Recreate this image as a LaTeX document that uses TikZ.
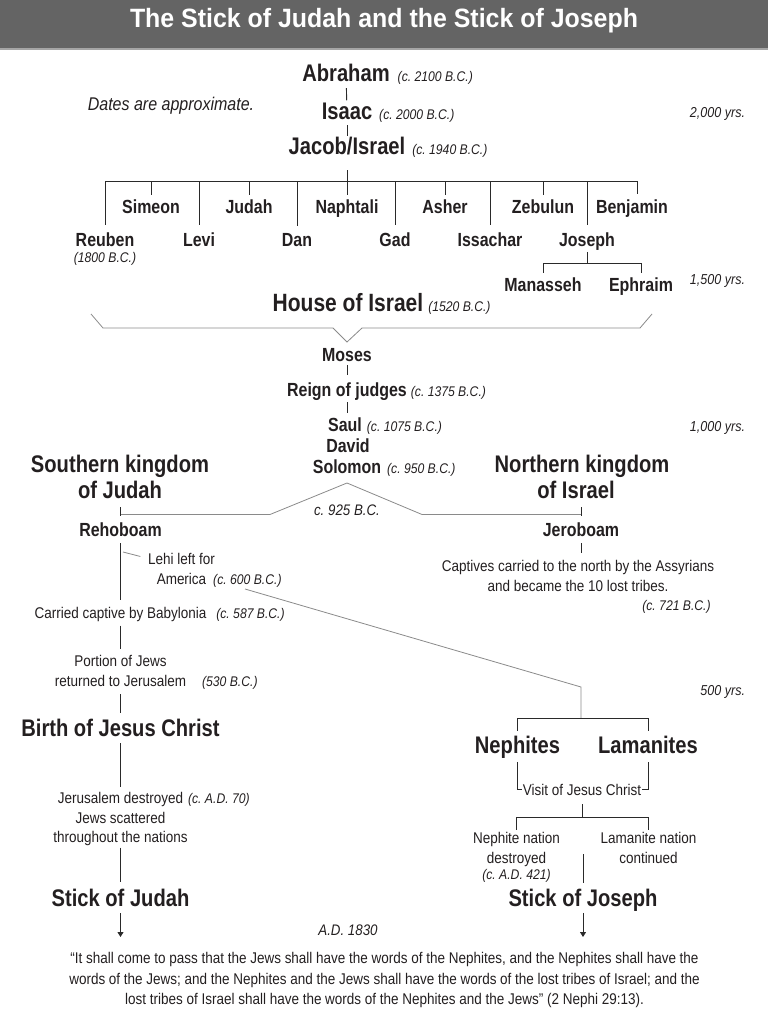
\documentclass[tikz,border=0pt]{standalone}
\usepackage{fontspec}
\setmainfont{Liberation Sans}
\newfontfamily\rgf{Liberation Sans}[FakeStretch=0.87]
\newfontfamily\bdf{Liberation Sans}[FakeStretch=0.84]
\newfontfamily\ttlf{Liberation Sans}[FakeStretch=0.94]
\usetikzlibrary{arrows.meta}
\definecolor{txt}{HTML}{231F20}
\definecolor{hbar}{HTML}{646464}
\definecolor{hbarl}{HTML}{A5A5A5}
\definecolor{gln}{HTML}{8A8A8A}
\definecolor{dln}{HTML}{2A2A2A}
\frenchspacing
\begin{document}
\begin{tikzpicture}[x=1pt,y=-1pt,
 every node/.style={inner sep=0pt, outer sep=0pt, text=txt},
 big/.style={font=\bdf\bfseries\fontsize{24}{27}\selectfont, anchor=base},
 hs/.style={font=\bdf\bfseries\fontsize{25}{27}\selectfont, anchor=base},
 nm/.style={font=\bdf\bfseries\fontsize{19}{21}\selectfont, anchor=base},
 rg/.style={font=\rgf\fontsize{15.5}{20}\selectfont, anchor=base},
 dt/.style={font=\rgf\itshape\fontsize{14}{16}\selectfont, anchor=base west},
 yr/.style={font=\rgf\itshape\fontsize{14.4}{16}\selectfont, anchor=base east},
 ct/.style={font=\rgf\itshape\fontsize{15.3}{17}\selectfont, anchor=base},
 ln/.style={draw=dln, line width=0.9pt},
 gl/.style={draw=gln, line width=0.8pt},
 arr/.style={ln, -{Triangle[length=5pt,width=6pt]}},
]
\useasboundingbox (0,0) rectangle (768,1024);
% header
\fill[hbar] (0,0) rectangle (768,48);
\fill[hbarl] (0,48) rectangle (768,50);
\node[font=\ttlf\bfseries\fontsize{26.5}{28}\selectfont, text=white, anchor=base] (title) at (384,27.5) {The Stick of Judah and the Stick of Joseph};

\node[font=\rgf\itshape\fontsize{18.4}{20}\selectfont, anchor=base] (dates) at (171,111) {Dates are approximate.};

% patriarchs
\node[big] (abraham) at (346,82) {Abraham};
\node[dt] (dabr) at ([xshift=8pt]abraham.base east) {(c. 2100 B.C.)};
\node[big] (isaac) at (347,120) {Isaac};
\node[dt] (disa) at ([xshift=7pt]isaac.base east) {(c. 2000 B.C.)};
\node[big] (jacob) at (347,155) {Jacob/Israel};
\node[dt] (djac) at ([xshift=7pt]jacob.base east) {(c. 1940 B.C.)};
\node[yr] (y2000) at (745,118) {2,000 yrs.};

% tribes
\node[nm] (simeon) at (151,214) {Simeon};
\node[nm] (judah) at (249,214) {Judah};
\node[nm] (naphtali) at (347,214) {Naphtali};
\node[nm] (asher) at (445,214) {Asher};
\node[nm] (zebulun) at (543,214) {Zebulun};
\node[nm] (benjamin) at (632,214) {Benjamin};
\node[nm] (reuben) at (105,247) {Reuben};
\node[nm] (levi) at (199,247) {Levi};
\node[nm] (dan) at (297,247) {Dan};
\node[nm] (gad) at (395,247) {Gad};
\node[nm] (issachar) at (490,247) {Issachar};
\node[nm] (joseph) at (587,247) {Joseph};
\node[dt, anchor=base] (dreu) at (105,262) {(1800 B.C.)};
\node[nm] (manasseh) at (543,291.5) {Manasseh};
\node[nm] (ephraim) at (641,291.5) {Ephraim};
\node[yr] (y1500) at (745,284) {1,500 yrs.};
\node[hs] (house) at (348,311.5) {House of Israel};
\node[dt] (dhouse) at ([xshift=5pt]house.base east) {(1520 B.C.)};

% judges and kings
\node[nm] (moses) at (347,361) {Moses};
\node[nm] (reign) at (347,396) {Reign of judges};
\node[dt] (dreign) at ([xshift=4pt]reign.base east) {(c. 1375 B.C.)};
\node[nm] (saul) at (345,431) {Saul};
\node[dt] (dsaul) at ([xshift=5pt]saul.base east) {(c. 1075 B.C.)};
\node[nm] (david) at (348,452) {David};
\node[nm] (solomon) at (347,473) {Solomon};
\node[dt] (dsol) at ([xshift=6pt]solomon.base east) {(c. 950 B.C.)};
\node[yr] (y1000) at (745,431) {1,000 yrs.};
\node[big] (south1) at (120,472) {Southern kingdom};
\node[big] (south2) at (120,498) {of Judah};
\node[big] (north1) at (582,472) {Northern kingdom};
\node[big] (north2) at (576,498) {of Israel};
\node[ct] (c925) at (347,515) {c. 925 B.C.};
\node[nm] (rehoboam) at (120.5,536) {Rehoboam};
\node[nm] (jeroboam) at (581,536) {Jeroboam};

% left column
\node[rg] (lehi1) at (181.5,564) {Lehi left for};
\node[rg] (lehi2) at (181.5,584) {America};
\node[dt] (dlehi) at ([xshift=7pt]lehi2.base east) {(c. 600 B.C.)};
\node[rg] (carried) at (120.5,618.5) {Carried captive by Babylonia};
\node[dt] (dcar) at ([xshift=10pt]carried.base east) {(c. 587 B.C.)};
\node[rg] (port1) at (120.5,666) {Portion of Jews};
\node[rg] (port2) at (120.5,686) {returned to Jerusalem};
\node[dt] (dport) at ([xshift=16pt]port2.base east) {(530 B.C.)};
\node[yr] (y500) at (745,695) {500 yrs.};
\node[big] (birth) at (120.5,736.5) {Birth of Jesus Christ};
\node[rg] (jer1) at (120.5,803.5) {Jerusalem destroyed};
\node[dt] (djer) at ([xshift=5pt]jer1.base east) {(c. A.D. 70)};
\node[rg] (jer2) at (120.5,823) {Jews scattered};
\node[rg] (jer3) at (120.5,842.5) {throughout the nations};
\node[big] (stickjudah) at (120.5,906) {Stick of Judah};

% right column
\node[rg] (cap1) at (578,571) {Captives carried to the north by the Assyrians};
\node[rg] (cap2) at (578,591) {and became the 10 lost tribes.};
\node[dt, anchor=base] (d721) at (676.5,610) {(c. 721 B.C.)};
\node[big] (nephites) at (517.5,753) {Nephites};
\node[big] (lamanites) at (648,753) {Lamanites};
\node[rg, inner xsep=1pt] (visit) at (582,795) {Visit of Jesus Christ};
\node[rg] (nn1) at (516.5,843) {Nephite nation};
\node[rg] (nn2) at (516.5,863) {destroyed};
\node[dt, anchor=base] (nn3) at (516.5,879) {(c. A.D. 421)};
\node[rg] (ln1) at (648.5,843) {Lamanite nation};
\node[rg] (ln2) at (648.5,863) {continued};
\node[big] (stickjoseph) at (583,906) {Stick of Joseph};
\node[ct] (ad1830) at (348,935) {A.D. 1830};

% quote
\node[rg] (q1) at (384.5,963.5) {“It shall come to pass that the Jews shall have the words of the Nephites, and the Nephites shall have the};
\node[rg] (q2) at (384.5,984.5) {words of the Jews; and the Nephites and the Jews shall have the words of the lost tribes of Israel; and the};
\node[rg] (q3) at (384.5,1004.5) {lost tribes of Israel shall have the words of the Nephites and the Jews” (2 Nephi 29:13).};

% ---------- connectors ----------
\draw[ln, shorten <=6pt, shorten >=3pt] (abraham) -- (isaac);
\draw[ln, shorten <=5pt, shorten >=2pt] (isaac) -- (jacob);
\draw[ln, shorten <=15pt, shorten >=5pt] (jacob) -- (naphtali);
\coordinate (barL) at (105,181.5);
\coordinate (barR) at (637,181.5);
\coordinate (benT) at (637,194);
\draw[ln] (barL) -- (barR) -- (benT);
\foreach \t in {simeon,judah,asher,zebulun}
  \draw[ln, shorten >=5pt] (barL -| \t) -- (\t);
\foreach \t in {reuben,levi,dan,gad,issachar,joseph}
  \draw[ln, shorten >=8pt] (barL -| \t) -- (\t);
\coordinate (jsb) at (587,263);
\draw[ln, shorten <=1pt] (joseph) -- (jsb);
\draw[ln] (jsb -| manasseh) -- (jsb -| ephraim);
\draw[ln, shorten >=5pt] (jsb -| manasseh) -- (manasseh);
\draw[ln, shorten >=5pt] (jsb -| ephraim) -- (ephraim);

% brace
\coordinate (brA) at (91,314);
\coordinate (brB) at (103,328);
\coordinate (brC) at (333,328);
\coordinate (brP) at (347,342);
\coordinate (brD) at (362,328);
\coordinate (brE) at (640,328);
\coordinate (brF) at (652,314);
\draw[gl] (brA) -- (brB) -- (brC) -- (brP) -- (brD) -- (brE) -- (brF);

\draw[ln, shorten <=4pt, shorten >=7pt] (moses) -- (reign);
\draw[ln, shorten <=2pt, shorten >=4pt] (reign) -- (saul.north -| reign);

% chevron split
\coordinate (chL) at (120.5,514.5);
\coordinate (chA) at (270,514.5);
\coordinate (chP) at (347,483);
\coordinate (chB) at (422,514.5);
\coordinate (chR) at (581,514.5);
\draw[gl] (chL) -- (chA) -- (chP) -- (chB) -- (chR);
\coordinate (tkL) at (120.5,507);
\coordinate (tkR) at (581,507);
\draw[ln, shorten >=6pt] (tkL) -- (rehoboam);
\draw[ln, shorten >=6pt] (tkR) -- (jeroboam);

% left column connectors
\draw[ln, shorten <=7pt, shorten >=7pt] (rehoboam) -- (carried);
\coordinate (lA) at (123,552);
\draw[gl, shorten >=8pt] (lA) -- (lehi1.west);
\draw[ln, shorten <=4pt, shorten >=6pt] (carried) -- (port1);
\draw[ln, shorten <=8pt, shorten >=6pt] (port2) -- (birth);
\draw[ln, shorten <=6.5pt, shorten >=5pt] (birth) -- (jer1);
\draw[ln, shorten <=2pt, shorten >=6.5pt] (jer3) -- (stickjudah);
\coordinate (aJ) at (120.5,937);
\draw[arr, shorten <=7pt] (stickjudah) -- (aJ);

% right column connectors
\draw[ln, shorten <=7pt, shorten >=7pt] (jeroboam) -- (jeroboam |- cap1.north);
\coordinate (g1) at (245,589);
\coordinate (g2) at (581,687);
\coordinate (g3) at (581,718);
\draw[gl] (g1) -- (g2) -- (g3);
\coordinate (nb) at (581,718);
\draw[ln] (nb -| nephites) -- (nb -| lamanites);
\draw[ln, shorten >=4.5pt] (nb -| nephites) -- (nephites);
\draw[ln, shorten >=4.5pt] (nb -| lamanites) -- (lamanites);
\draw[ln, shorten <=4pt] (nephites) |- (visit);
\draw[ln, shorten <=9pt] (lamanites) |- (visit);
\coordinate (vb) at (582,817);
\draw[ln, shorten <=9pt] (visit) -- (vb);
\draw[ln] (vb -| nn1) -- (vb -| ln1);
\draw[ln, shorten >=2pt] (vb -| nn1) -- (nn1);
\draw[ln, shorten >=2pt] (vb -| ln1) -- (ln1);
\coordinate (sjl) at (583,854);
\draw[ln, shorten >=6pt] (sjl) -- (stickjoseph);
\coordinate (aJo) at (583,937);
\draw[arr, shorten <=2pt] (stickjoseph) -- (aJo);
\end{tikzpicture}
\end{document}
